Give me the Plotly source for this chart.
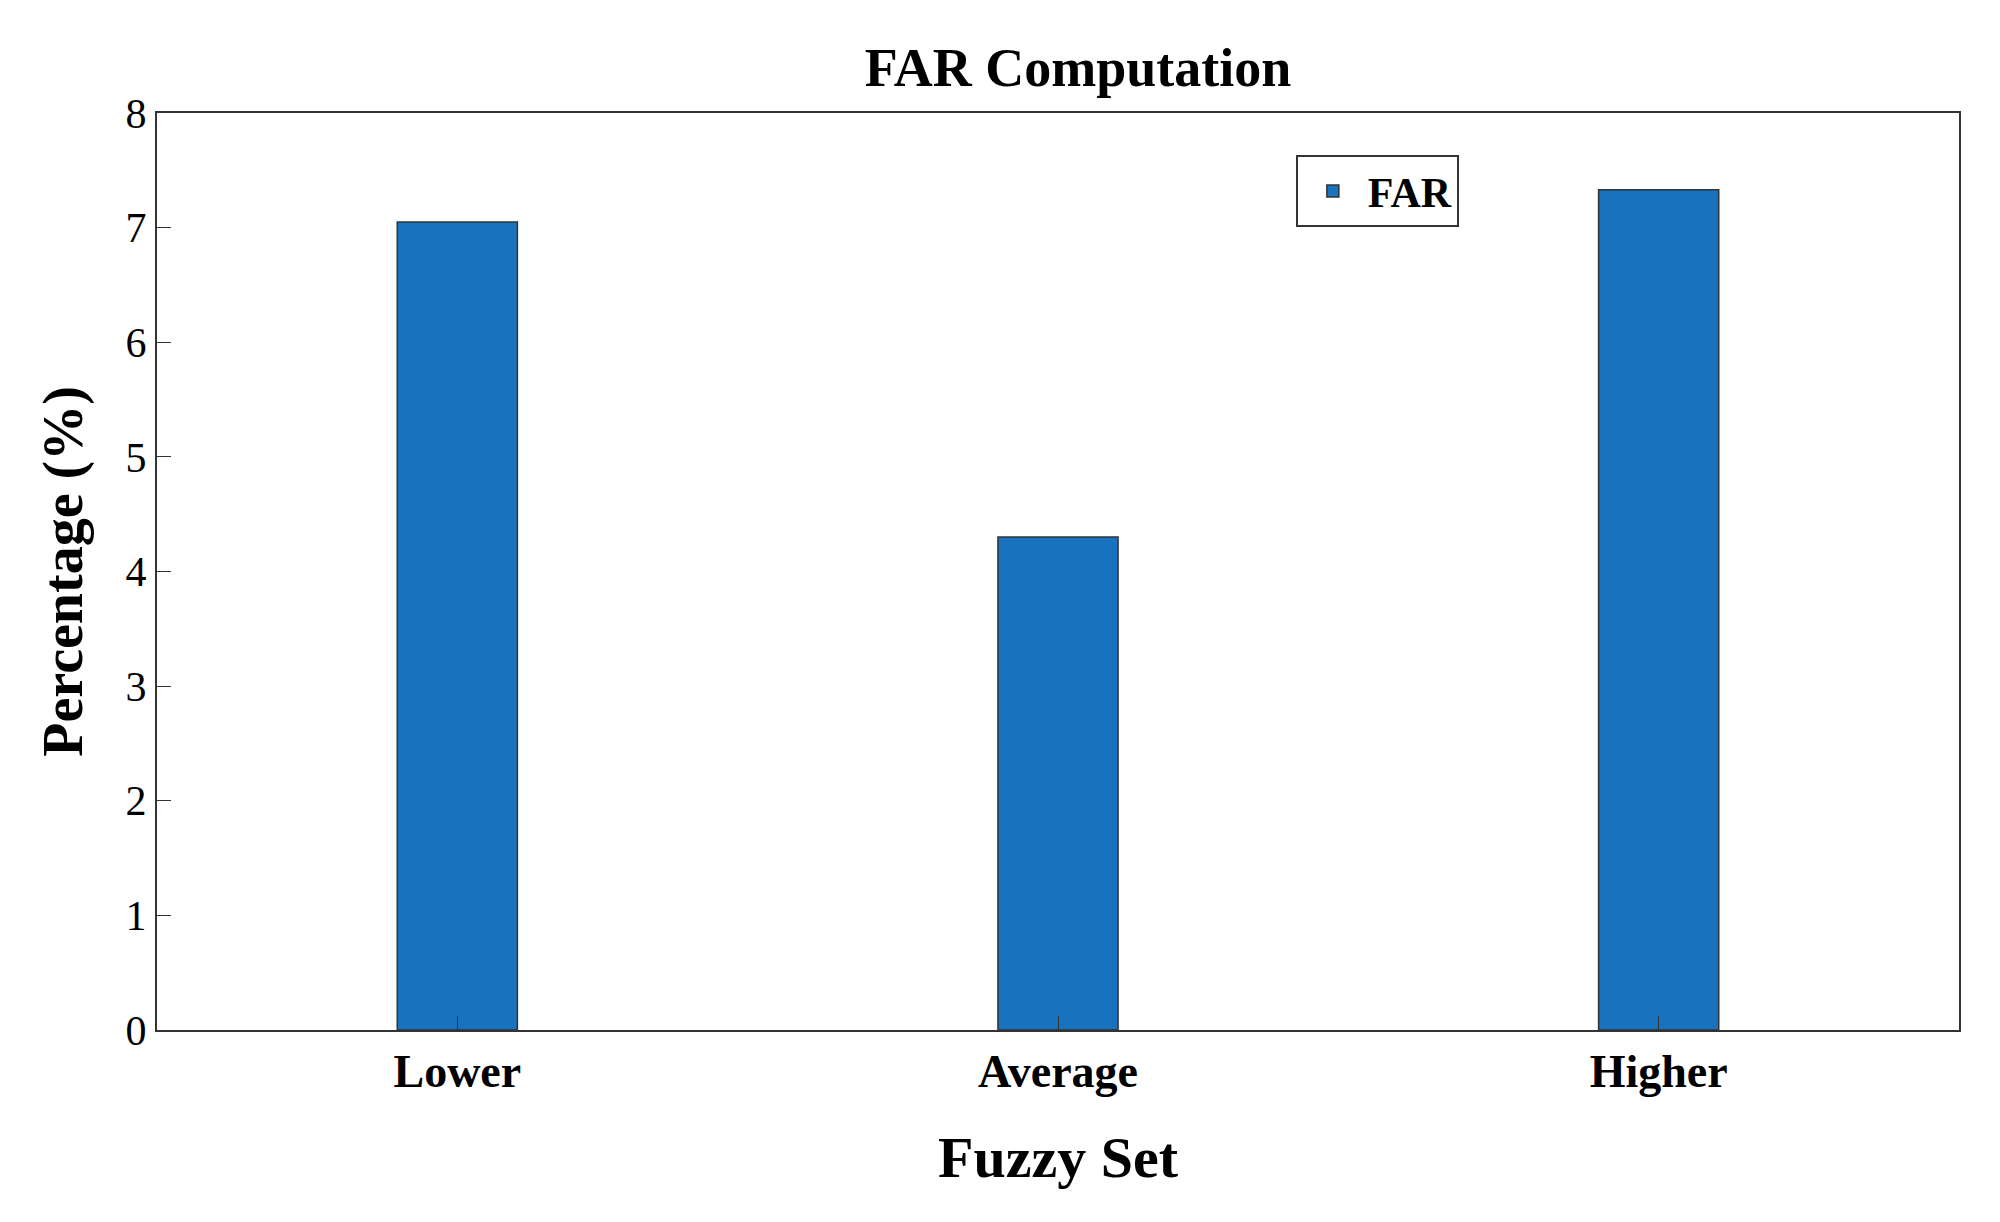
import plotly.graph_objects as go

categories = ["Lower", "Average", "Higher"]
far_values = [7.05, 4.3, 7.33]
y_ticks = [0, 1, 2, 3, 4, 5, 6, 7, 8]

font = "Liberation Serif"
fig = go.Figure(go.Bar(
    x=categories, y=far_values, name="<b>FAR</b>",
    marker=dict(color="#1872BD", line=dict(color="#333333", width=1.5)),
    width=0.2,
))
fig.update_layout(
    width=2000, height=1222,
    paper_bgcolor="white", plot_bgcolor="white",
    margin=dict(l=149, r=49, t=105, b=200),
    title=dict(text="<b>FAR Computation</b>", x=0.535, xanchor="center", y=0.967,
               font=dict(family=font, size=54, color="black")),
    font=dict(family=font, color="black"),
    showlegend=True,
    legend=dict(x=0.632, y=0.954, xanchor="left", yanchor="top",
                bordercolor="#333333", borderwidth=2, bgcolor="white",
                font=dict(family=font, size=42, color="black"),
                itemwidth=60),
    bargap=0.8,
)
fig.update_xaxes(
    showline=True, linecolor="#333333", linewidth=2, mirror=True,
    ticks="inside", ticklen=14, tickcolor="#333333",
    tickfont=dict(family=font, size=46, color="black"),
    tickprefix="<b>", ticksuffix="</b>",
    title=dict(text="<b>Fuzzy Set</b>", font=dict(family=font, size=58, color="black"), standoff=40),
)
fig.update_yaxes(
    range=[0, 8], tickvals=y_ticks, showgrid=False, zeroline=False,
    showline=True, linecolor="#333333", linewidth=2, mirror=True,
    ticks="inside", ticklen=14, tickcolor="#333333",
    tickfont=dict(family=font, size=42, color="black"),
    tickprefix="<b>", ticksuffix="</b>",
    title=dict(text="<b>Percentage (%)</b>", font=dict(family=font, size=56, color="black"), standoff=25),
)
fig.write_html("out.html")
